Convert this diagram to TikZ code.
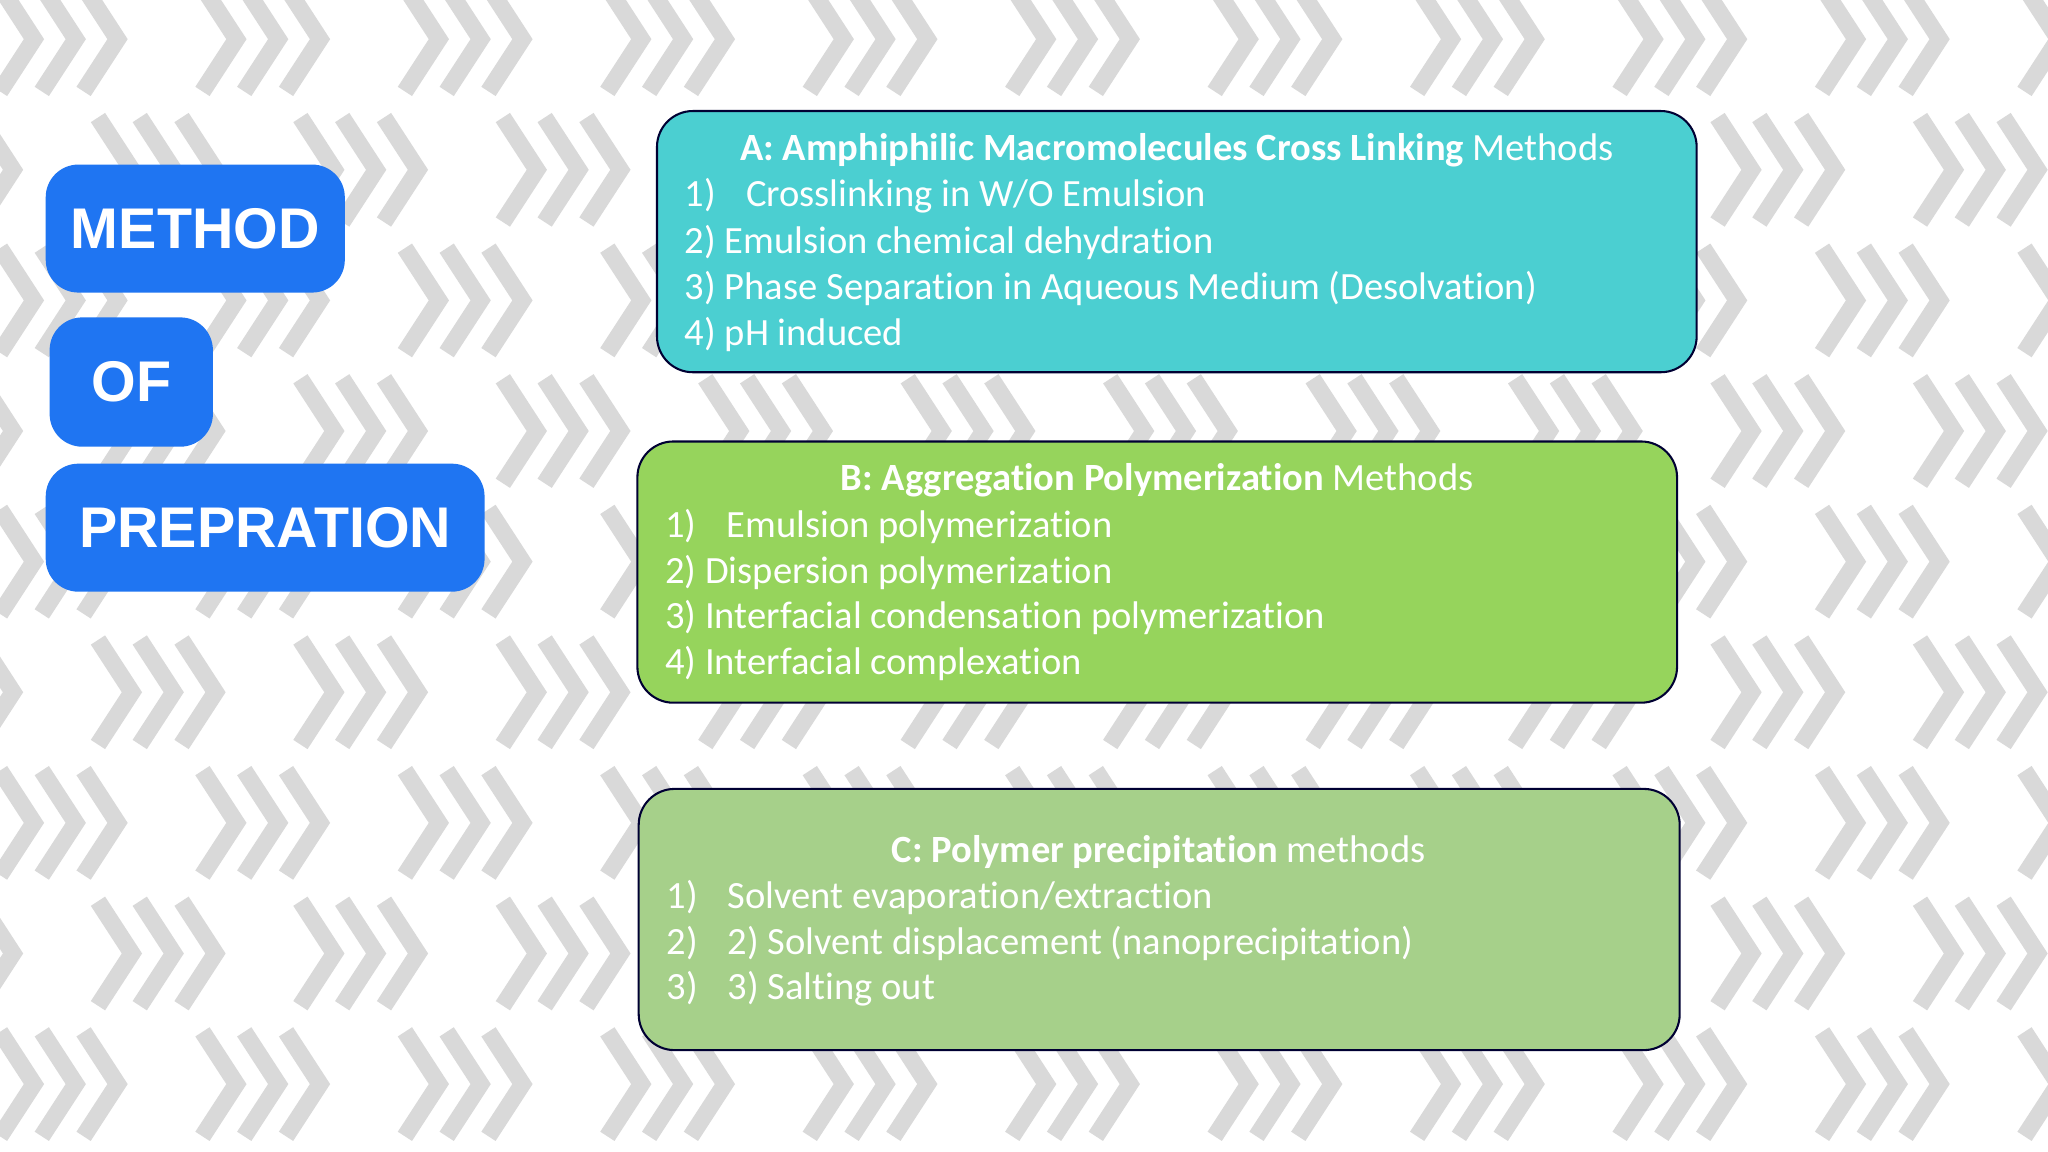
\documentclass[tikz,border=0pt]{standalone}
\usepackage{fontspec}
\setmainfont[Ligatures=NoCommon]{Carlito}
\newfontfamily\titlefont{Liberation Sans}
\definecolor{bluebox}{HTML}{1F75F2}
\definecolor{pa}{HTML}{4BCFD1}
\definecolor{pb}{HTML}{96D45C}
\definecolor{pc}{HTML}{A6D08A}
\begin{document}
\begin{tikzpicture}[x=0.02cm,y=-0.02cm,
  chev/.style={draw=black!15,line width=0.26cm,line cap=butt,line join=miter},
  blue/.style={fill=bluebox,draw=none,rounded corners=0.5cm},
  ttl/.style={text=white,font=\titlefont\bfseries\fontsize{25}{28}\selectfont},
  panel/.style={draw=black!80!blue,line width=0.9pt,rounded corners=0.55cm},
  txt/.style={font=\fontsize{16.8}{19}\selectfont,text=white,anchor=west,inner sep=0pt},
  hd/.style={font=\fontsize{16.8}{19}\selectfont,text=white,anchor=center,inner sep=0pt}]
\useasboundingbox (0,0) rectangle (1568,882);
\fill[white] (0,0) rectangle (1568,882);
\begin{scope}
\clip (0,0) rectangle (1568,882);
\foreach \r in {0,...,9}{
  \pgfmathsetmacro{\off}{mod(\r,2)*75}
  \foreach \g in {-1,...,10}{
    \foreach \k in {0,1,2}{
      \pgfmathsetmacro{\xx}{\g*155+\off+\k*32}
      \draw[chev] (\xx,\r*100-10) -- (\xx+26,\r*100+30) -- (\xx,\r*100+70);
    }
  }
}
\end{scope}
% left titles
\fill[blue] (35,126) rectangle (264,224);
\node[ttl] (m) at (149.5,175) {METHOD};
\fill[blue] (38,243) rectangle (163,342);
\node[ttl] (o) at (100.5,292) {OF};
\fill[blue] (35,355) rectangle (371,453);
\node[ttl] (p) at (203,404) {PREPRATION};
% panel A
\draw[panel,fill=pa] (503,85) rectangle (1299,285);
\node[hd] (ah) at (901,115) {\textbf{A: Amphiphilic Macromolecules Cross Linking} Methods};
\node[txt] (a1) at (524,150) {1)\hspace{0.55em} Crosslinking in W/O Emulsion};
\node[txt] (a2) at (524,186) {2) Emulsion chemical dehydration};
\node[txt] (a3) at (524,221) {3) Phase Separation in Aqueous Medium (Desolvation)};
\node[txt] (a4) at (524,256) {4) pH induced};
% panel B
\draw[panel,fill=pb] (488,338) rectangle (1284,538);
\node[hd] (bh) at (886,368) {\textbf{B: Aggregation Polymerization} Methods};
\node[txt] (b1) at (509,403) {1)\hspace{0.55em} Emulsion polymerization};
\node[txt] (b2) at (509,438) {2) Dispersion polymerization};
\node[txt] (b3) at (509,473) {3) Interfacial condensation polymerization};
\node[txt] (b4) at (509,508) {4) Interfacial complexation};
% panel C
\draw[panel,fill=pc] (489,604) rectangle (1286,804);
\node[hd] (ch) at (887,652) {\textbf{C: Polymer precipitation} methods};
\node[txt] (c1) at (510,687) {1)\hspace{0.55em} Solvent evaporation/extraction};
\node[txt] (c2) at (510,722) {2)\hspace{0.55em} 2) Solvent displacement (nanoprecipitation)};
\node[txt] (c3) at (510,757) {3)\hspace{0.55em} 3) Salting out};
\end{tikzpicture}
\end{document}
